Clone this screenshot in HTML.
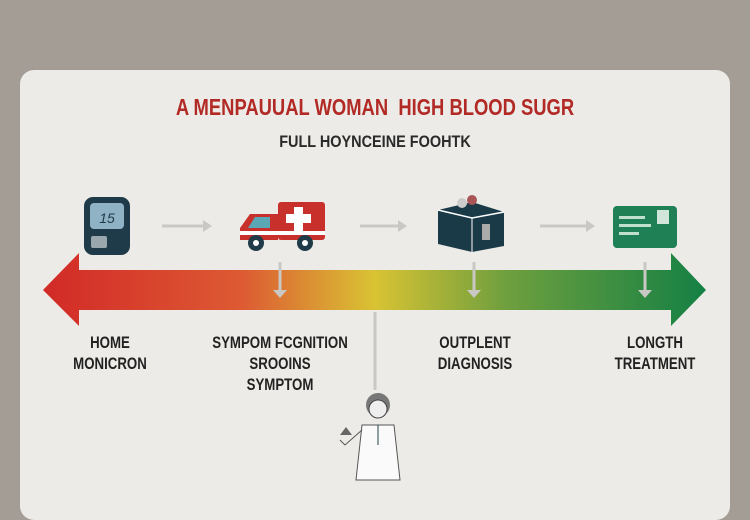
<!DOCTYPE html>
<html><head><style>
body{margin:0;width:750px;height:500px;background:#a39d96;overflow:hidden;font-family:"Liberation Sans",sans-serif;position:relative}
.panel{position:absolute;left:20px;top:70px;width:710px;height:450px;background:#ecebe7;border-radius:14px}
.t{position:absolute;white-space:nowrap;font-weight:bold;transform:scaleX(.85);transform-origin:center}
.lbl{position:absolute;text-align:center;font-size:17px;font-weight:bold;color:#222;line-height:21px;transform:scaleX(.78)}
</style></head><body>
<div class="panel"></div>
<div class="t" style="left:0;width:750px;text-align:center;top:94px;font-size:23px;color:#b22a25;transform:scaleX(.8)">A MENPAUUAL WOMAN&nbsp; HIGH BLOOD SUGR</div>
<div class="t" style="left:0;width:750px;text-align:center;top:132px;font-size:17px;color:#2a2a2a;font-weight:bold">FULL HOYNCEINE FOOHTK</div>
<svg width="750" height="500" style="position:absolute;left:0;top:0">
<defs><linearGradient id="g" x1="43" x2="706" gradientUnits="userSpaceOnUse">
<stop offset="0" stop-color="#d22a27"/><stop offset=".3" stop-color="#dd5a33"/><stop offset=".5" stop-color="#d9c333"/><stop offset=".7" stop-color="#6e9f3e"/><stop offset="1" stop-color="#148044"/></linearGradient></defs>
<polygon points="43,290 79,253 79,270 671,270 671,253 706,290 671,326 671,310 79,310 79,326" fill="url(#g)"/>
<g stroke="#c9c8c4" stroke-width="3" fill="#c9c8c4">
<line x1="162" y1="226" x2="205" y2="226"/><polygon points="203,220 212,226 203,232" stroke="none"/>
<line x1="360" y1="226" x2="400" y2="226"/><polygon points="398,220 407,226 398,232" stroke="none"/>
<line x1="540" y1="226" x2="588" y2="226"/><polygon points="586,220 595,226 586,232" stroke="none"/>
<line x1="280" y1="262" x2="280" y2="292"/><polygon points="273,290 280,298 287,290" stroke="none"/>
<line x1="474" y1="262" x2="474" y2="292"/><polygon points="467,290 474,298 481,290" stroke="none"/>
<line x1="645" y1="262" x2="645" y2="292"/><polygon points="638,290 645,298 652,290" stroke="none"/>
<line x1="375" y1="312" x2="375" y2="390"/>
</g>
<rect x="84" y="197" width="46" height="58" rx="9" fill="#1f3a48"/>
<rect x="90" y="203" width="34" height="26" rx="4" fill="#8fb3c4"/>
<text x="107" y="223" font-size="14" text-anchor="middle" fill="#1f3a48" font-style="italic">15</text>
<rect x="91" y="236" width="16" height="12" rx="2" fill="#9aa8ae"/>
<rect x="278" y="202" width="47" height="38" rx="3" fill="#c8302c"/>
<rect x="294" y="207" width="9" height="24" fill="#fff"/><rect x="286" y="214" width="25" height="9" fill="#fff"/>
<polygon points="250,214 278,214 278,240 240,240 240,228" fill="#c8302c"/>
<polygon points="255,217 270,217 270,228 248,228" fill="#5aa7b5"/>
<rect x="240" y="231" width="85" height="4" fill="#fff"/>
<circle cx="256" cy="243" r="8" fill="#1f3a48"/><circle cx="256" cy="243" r="3" fill="#fff"/>
<circle cx="305" cy="243" r="8" fill="#1f3a48"/><circle cx="305" cy="243" r="3" fill="#fff"/>
<polygon points="438,210 472,202 504,212 504,246 472,252 438,244" fill="#1b3a48"/>
<polyline points="438,210 472,218 504,212" stroke="#fff" stroke-width="1.5" fill="none"/>
<line x1="472" y1="218" x2="472" y2="252" stroke="#fff" stroke-width="1"/>
<rect x="482" y="224" width="8" height="16" fill="#aaa"/>
<circle cx="462" cy="203" r="5" fill="#ccc"/><circle cx="472" cy="200" r="5" fill="#a55"/>
<rect x="613" y="206" width="64" height="42" rx="4" fill="#1f7f55"/>
<rect x="619" y="216" width="26" height="3" fill="#bfe0cc"/><rect x="619" y="224" width="32" height="3" fill="#bfe0cc"/><rect x="619" y="232" width="20" height="3" fill="#bfe0cc"/>
<rect x="657" y="210" width="12" height="14" fill="#cfe6d8"/>
<circle cx="378" cy="405" r="12" fill="#777"/><circle cx="378" cy="409" r="9" fill="#eee" stroke="#444"/>
<path d="M362,425 L394,425 L400,480 L356,480 Z" fill="#fafafa" stroke="#555"/>
<line x1="378" y1="425" x2="378" y2="445" stroke="#244"/>
<path d="M362,430 L345,445 L340,440" stroke="#555" fill="none"/>
<path d="M340,435 l6,-8 l6,8 z" fill="#666"/>
</svg>
<div class="lbl" style="left:60px;top:332px;width:100px">HOME<br>MONICRON</div>
<div class="lbl" style="left:185px;top:332px;width:190px">SYMPOM FCGNITION<br>SROOINS<br>SYMPTOM</div>
<div class="lbl" style="left:410px;top:332px;width:130px">OUTPLENT<br>DIAGNOSIS</div>
<div class="lbl" style="left:590px;top:332px;width:130px">LONGTH<br>TREATMENT</div>
</body></html>
